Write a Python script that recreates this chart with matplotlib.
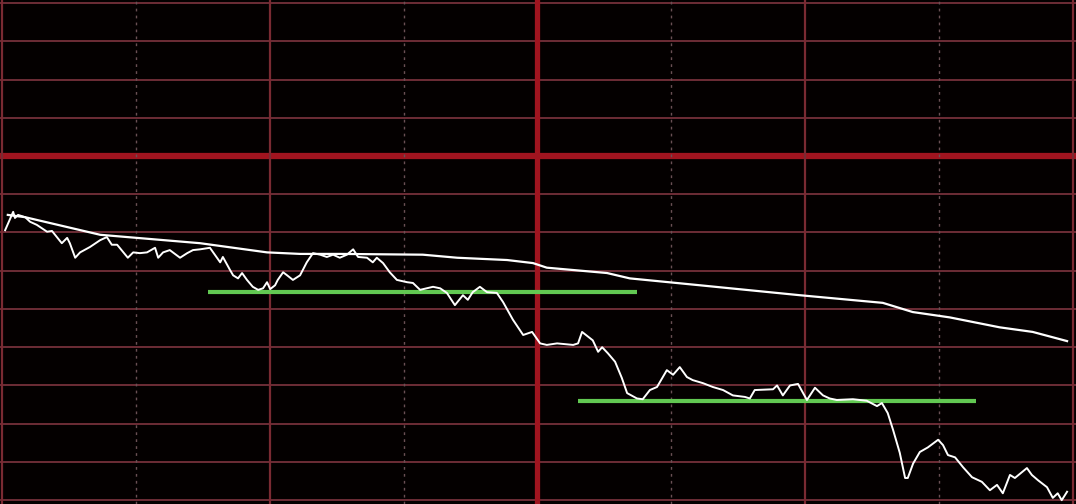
import numpy as np
import matplotlib.pyplot as plt

# intraday minute chart, change vs previous close in percent
price_t = [0.7, 2.5, 2.9, 3.6, 5.2, 6.3, 7.8, 10.1, 11.2, 12.3, 13.4, 14.6, 15.2, 16.4, 17.5,
           19.7, 22.0, 23.5, 24.6, 25.8, 28.2, 29.4, 30.9, 32.5, 34.3, 35.0, 36.1, 37.6, 39.9,
           41.5, 42.8, 44.4, 46.6, 47.7, 48.9, 49.5, 51.1, 51.8, 52.9, 53.8, 54.9, 56.2, 57.4,
           58.5, 59.4, 60.1, 61.2, 61.8, 63.0, 63.9, 65.2, 66.8, 68.3, 69.7, 71.3, 72.8, 74.2,
           75.7, 77.3, 78.7, 79.8, 81.8, 83.1, 84.0, 85.4, 86.9, 88.5, 90.8, 92.1, 93.7, 95.2,
           96.6, 98.2, 99.7, 101.5, 103.3, 104.4, 105.5, 107.1, 108.7, 110.9, 112.3, 114.5,
           116.8, 118.8, 120.6, 122.1, 124.4, 128.0, 129.1, 130.0, 132.4, 133.6, 134.5, 135.8,
           137.4, 138.9, 140.1, 142.3, 143.6, 145.2, 146.8, 149.0, 150.4, 151.9, 153.5, 154.8,
           157.1, 159.3, 161.6, 163.8, 166.5, 167.6, 168.7, 172.8, 173.7, 175.0, 176.6, 178.4,
           180.4, 182.2, 184.0, 185.5, 187.1, 190.7, 193.8, 196.1, 197.2, 198.5, 199.7, 201.2,
           202.4, 203.0, 204.2, 205.7, 207.5, 209.8, 210.9, 212.0, 213.6, 215.4, 217.4, 219.6,
           221.4, 223.0, 224.3, 225.9, 227.0, 229.7, 230.8, 232.2, 234.2, 235.5, 236.6, 237.5,
           238.7]
price_pct = [-0.97, -0.73, -0.81, -0.77, -0.80, -0.86, -0.90, -0.99, -0.98, -1.06, -1.14, -1.07,
             -1.14, -1.33, -1.26, -1.19, -1.10, -1.06, -1.16, -1.16, -1.33, -1.26, -1.27, -1.26,
             -1.20, -1.33, -1.26, -1.23, -1.33, -1.27, -1.23, -1.22, -1.20, -1.29, -1.39, -1.32,
             -1.49, -1.56, -1.60, -1.53, -1.62, -1.71, -1.75, -1.73, -1.65, -1.74, -1.69, -1.62,
             -1.52, -1.56, -1.62, -1.56, -1.39, -1.27, -1.29, -1.32, -1.29, -1.33, -1.29, -1.22,
             -1.32, -1.33, -1.39, -1.33, -1.40, -1.52, -1.62, -1.65, -1.66, -1.75, -1.73, -1.71,
             -1.73, -1.79, -1.95, -1.82, -1.88, -1.78, -1.71, -1.78, -1.79, -1.91, -2.14, -2.34,
             -2.30, -2.45, -2.47, -2.45, -2.47, -2.45, -2.30, -2.41, -2.56, -2.50, -2.58, -2.69,
             -2.90, -3.10, -3.17, -3.18, -3.06, -3.02, -2.80, -2.86, -2.76, -2.89, -2.93, -2.97,
             -3.02, -3.06, -3.13, -3.15, -3.17, -3.06, -3.05, -3.00, -3.13, -3.00, -2.98, -3.19,
             -3.03, -3.13, -3.17, -3.19, -3.18, -3.20, -3.27, -3.23, -3.36, -3.58, -3.88, -4.21,
             -4.21, -4.02, -3.87, -3.81, -3.71, -3.78, -3.91, -3.94, -4.07, -4.20, -4.26, -4.37,
             -4.30, -4.41, -4.17, -4.21, -4.08, -4.17, -4.24, -4.33, -4.47, -4.41, -4.50, -4.39]

avg_t = [1.3, 5.2, 22.0, 44.4, 59.4, 66.8, 75.7, 94.3, 102.0, 113.2, 119.0, 122.1, 135.6,
         140.7, 156.4, 178.8, 197.4, 204.1, 212.4, 223.6, 231.0, 238.7]
avg_pct = [-0.77, -0.80, -1.03, -1.14, -1.26, -1.28, -1.28, -1.29, -1.33, -1.36, -1.40, -1.46,
           -1.53, -1.60, -1.69, -1.82, -1.92, -2.04, -2.11, -2.24, -2.30, -2.42]

# green support levels: (start minute, end minute, level)
support = [(46.2, 142.3, -1.78), (129.1, 218.3, -3.20)]

fig = plt.figure(figsize=(10.76, 5.04), dpi=100, facecolor="#040000")
ax = fig.add_axes([0, 0, 1, 1])
ax.set_facecolor("#040000")
ax.set_xlim(-0.45, 240.7)
ax.set_ylim(-4.55, 2.04)
ax.axis("off")

#Grid: horizontal every 0.5%, thick line at previous close
for lv in np.arange(-4.5, 2.01, 0.5):
    if abs(lv) < 1e-9:
        ax.axhline(lv, color="#a0141f", lw=4.5, zorder=1)
    else:
        ax.axhline(lv, color="#76303a", lw=1.3, zorder=1)
#Vertical lines every 30 minutes
for t in range(0, 241, 30):
    if t == 120:
        ax.axvline(t, color="#a0141f", lw=3.8, zorder=1)
    elif t % 60 == 0:
        ax.axvline(t, color="#7a2a32", lw=1.6, zorder=1)
    else:
        ax.axvline(t, color="#6a5054", lw=1.0, ls=(0, (2, 3)), zorder=1)

#Price and average lines
ax.plot(avg_t, avg_pct, color="white", lw=1.6, zorder=3)
ax.plot(price_t, price_pct, color="white", lw=1.4, zorder=4)

#Support lines
for t0, t1, lv in support:
    ax.plot([t0, t1], [lv, lv], color="#62c852", lw=3, solid_capstyle="butt", zorder=2)

plt.savefig("out.png", dpi=100, facecolor=fig.get_facecolor())
